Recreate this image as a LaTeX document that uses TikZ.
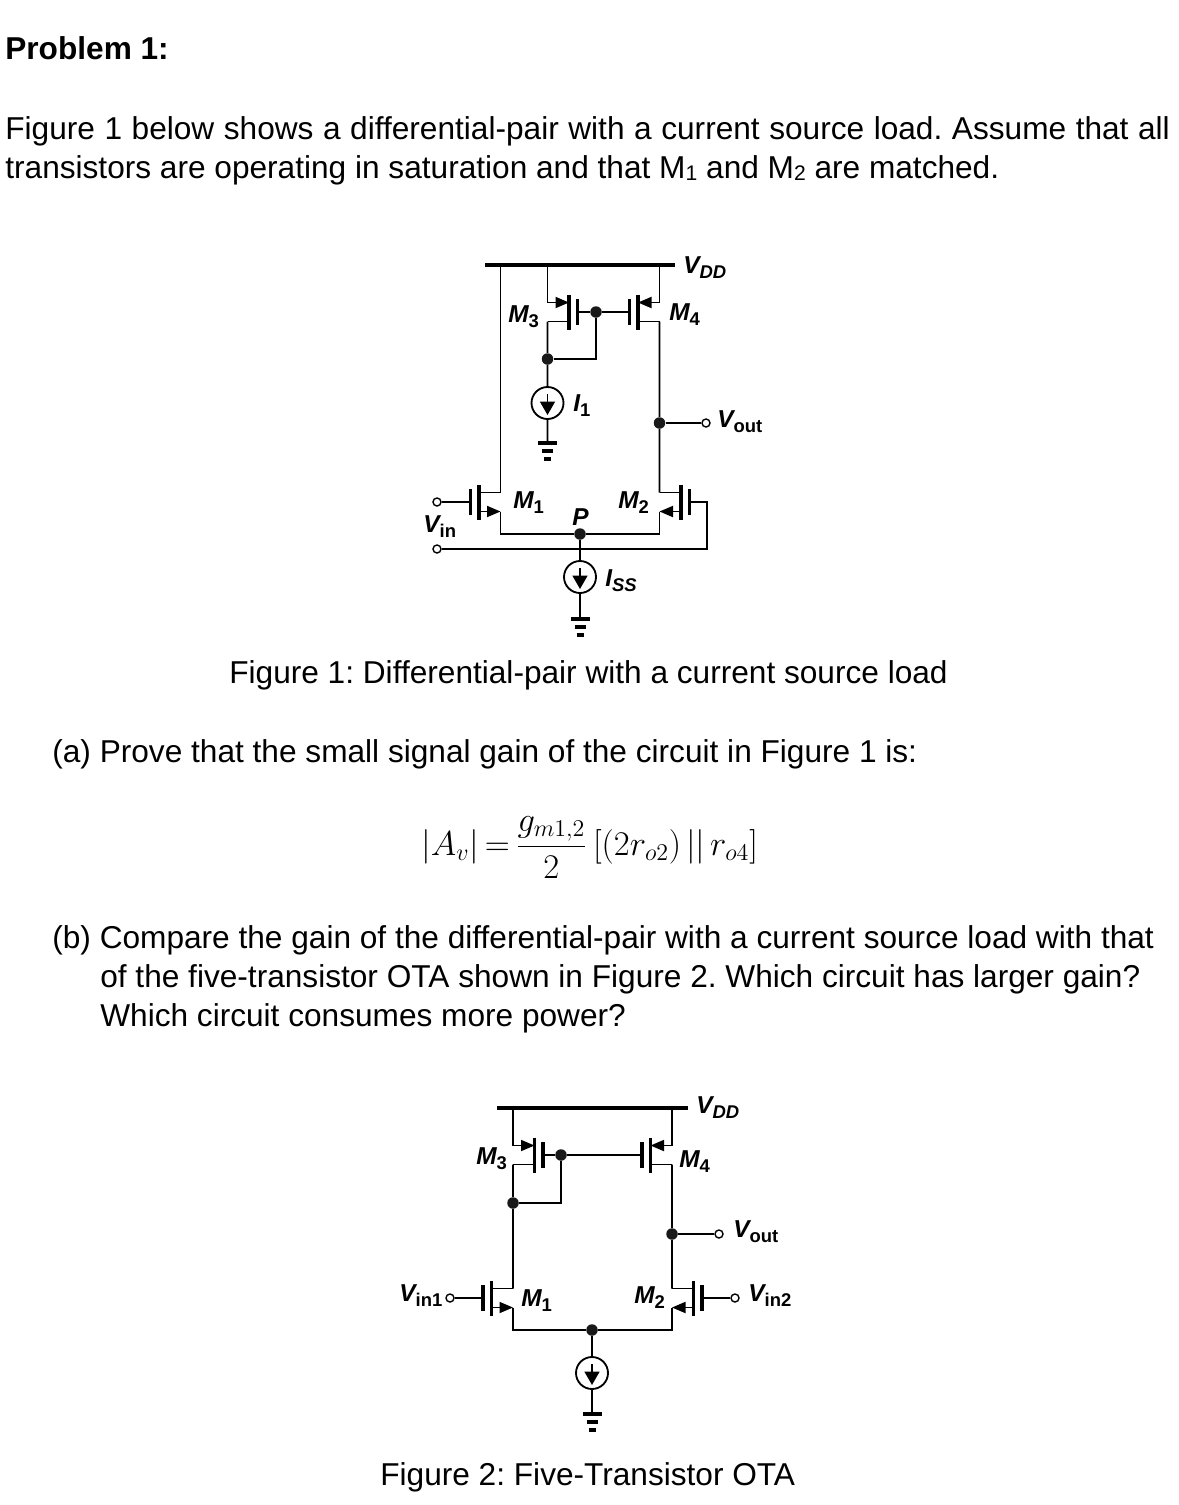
\documentclass[tikz,border=0pt]{standalone}
\usepackage{fontspec}
\setmainfont{Liberation Sans}
\usetikzlibrary{arrows.meta,calc}
\frenchspacing
\newcommand{\lsub}[1]{\raisebox{-3.4pt}{\fontsize{10.5}{10.5}\selectfont #1}}
\newcommand{\tsub}[1]{\raisebox{-1.5pt}{\fontsize{12}{12}\selectfont #1}}
\tikzset{
  wire/.style={line width=1.05pt},
  rail/.style={line width=2.2pt},
  bar/.style={line width=1.9pt},
  dotn/.style={circle,fill=black!90,inner sep=0pt,minimum size=0.23cm},
  opn/.style={circle,draw,fill=white,line width=0.8pt,inner sep=0pt,minimum size=0.16cm},
  srcn/.style={circle,draw,line width=1.05pt,inner sep=0pt,minimum size=0.64cm},
  bodytext/.style={anchor=base west,inner sep=0pt,font=\fontsize{18}{22}\selectfont},
  lbl/.style={anchor=base west,inner sep=0pt,font=\fontsize{13.9}{15}\bfseries\itshape\selectfont},
  tip/.style={-{Triangle[length=0.27cm,width=0.22cm]}},
}
%トランジスタ
\newcommand{\mosbody}[4]{
  \begin{scope}[shift={(#2,#3)},xscale=#4]
    \draw[bar](0,-17.5)--(0,17.5);
    \draw[bar](-8.5,-13)--(-8.5,13);
    \coordinate(#1-g)at(-8.5,0);
    \coordinate(#1-t)at(21.5,-9.5);
    \coordinate(#1-b)at(21.5,9.5);
  \end{scope}
}
\newcommand{\nmosfet}[4]{
  \mosbody{#1}{#2}{#3}{#4}
  \draw[wire](#1-t)--++({-21.5*#4},0);
  \draw[wire,tip]($(#1-b)+({-21.5*#4},0)$)--(#1-b);
}
\newcommand{\pmosfet}[4]{
  \mosbody{#1}{#2}{#3}{#4}
  \draw[wire](#1-b)--++({-21.5*#4},0);
  \draw[wire,tip](#1-t)--++({-21.5*#4},0);
}
%接地
\newcommand{\gndsym}[3]{
  \coordinate(#1)at(#2,#3);
  \draw[line width=1.9pt]($(#1)+(-9.5,0)$)--($(#1)+(9.5,0)$);
  \draw[line width=1.9pt]($(#1)+(-5.5,8)$)--($(#1)+(5.5,8)$);
  \draw[line width=1.9pt]($(#1)+(-3.5,16)$)--($(#1)+(3.5,16)$);
}
%電流源
\newcommand{\srcarrow}[1]{
  \draw[wire,-{Triangle[length=0.27cm,width=0.3cm]}]($(#1)+(0,-9)$)--($(#1)+(0,12)$);
}
\begin{document}
\begin{tikzpicture}[x=0.02cm,y=-0.02cm]
  \useasboundingbox(0,0)rectangle(1179,1505);
  %本文
  \node[bodytext,font=\fontsize{18}{22}\bfseries\selectfont](title)at(5,59){Problem 1:};
  \node[bodytext](introa)at(5,139){\spaceskip=5.45pt Figure 1 below shows a differential-pair with a current source load. Assume that all};
  \node[bodytext](introb)at(5,178){transistors are operating in saturation and that M\tsub{1} and M\tsub{2} are matched.};
  \node[bodytext](capa)at(229,683){Figure 1: Differential-pair with a current source load};
  \node[bodytext](parta)at(52,762){(a) Prove that the small signal gain of the circuit in Figure 1 is:};
  \node[anchor=base west,inner sep=0pt,font=\fontsize{20}{24}\selectfont](gain)at(421,855){\scalebox{0.95}{$\displaystyle |A_v|\mskip-2mu=\mskip-2mu\frac{g_{m1,2}}{2}\,[(2r_{o2})\mskip2.5mu||\mskip2.5mu r_{o4}]$}};
  \node[bodytext](partb)at(52,948){(b) Compare the gain of the differential-pair with a current source load with that};
  \node[bodytext](partc)at(100,987){of the five-transistor OTA shown in Figure 2. Which circuit has larger gain?};
  \node[bodytext](partd)at(100,1026){Which circuit consumes more power?};
  \node[bodytext](capb)at(380,1485){Figure 2: Five-Transistor OTA};

  %Figure 1
  \coordinate(railal)at(485,265);
  \coordinate(railar)at(675,265);
  \draw[rail](railal)--(railar);
  \pmosfet{am3}{569}{312}{-1}
  \pmosfet{am4}{638}{312}{1}
  \nmosfet{am1}{479}{502}{1}
  \nmosfet{am2}{681}{502}{-1}
  \node[dotn](agate)at(596,312){};
  \node[dotn](adiode)at(547.5,359){};
  \node[dotn](aout)at(659.5,423){};
  \node[dotn](ap)at(580,534){};
  \node[opn](aoutc)at(706,423){};
  \node[opn](avina)at(437,502){};
  \node[opn](avinb)at(437,549){};
  \coordinate(acorner)at(707,549);
  \node[srcn](ai)at(547.5,403){};
  \node[srcn](aiss)at(580,577){};
  \srcarrow{ai}
  \srcarrow{aiss}
  \gndsym{agi}{547.5}{443}
  \gndsym{agss}{580}{619}
  \draw[wire](am3-t)--(am3-t|-railal);
  \draw[wire](am4-t)--(am4-t|-railal);
  \draw[wire](am1-t)--(am1-t|-railal);
  \draw[wire](am3-g)--(agate)--(am4-g);
  \draw[wire](agate)|-(adiode);
  \draw[wire](am3-b)--(adiode)--(ai)--(agi);
  \draw[wire](am4-b)--(aout)--(am2-t);
  \draw[wire](aout)--(aoutc);
  \draw[wire](avina)--(am1-g);
  \draw[wire](am1-b)|-(ap);
  \draw[wire](am2-b)|-(ap);
  \draw[wire](ap)--(aiss)--(agss);
  \draw[wire](am2-g)-|(acorner)--(avinb);
  \node[lbl](avdd)at(683,273){V\lsub{DD}};
  \node[lbl](alm3)at(508,322){M\lsub{\upshape 3}};
  \node[lbl](alm4)at(669,320){M\lsub{\upshape 4}};
  \node[lbl](ali)at(573,411){I\lsub{\upshape 1}};
  \node[lbl](alout)at(717,427){V\lsub{\upshape out}};
  \node[lbl](alm1)at(513,508){M\lsub{\upshape 1}};
  \node[lbl](alm2)at(618,508){M\lsub{\upshape 2}};
  \node[lbl](alp)at(572,525){P};
  \node[lbl](alvin)at(423,532){V\lsub{\upshape in}};
  \node[lbl](aliss)at(605,586){I\lsub{SS}};

  %Figure 2
  \coordinate(railbl)at(497,1108);
  \coordinate(railbr)at(688,1108);
  \draw[rail](railbl)--(railbr);
  \pmosfet{bm3}{534.5}{1155}{-1}
  \pmosfet{bm4}{650.5}{1155}{1}
  \nmosfet{bm1}{491.5}{1298}{1}
  \nmosfet{bm2}{693.5}{1298}{-1}
  \node[dotn](bgate)at(561,1155){};
  \node[dotn](bdiode)at(513,1203){};
  \node[dotn](bout)at(672,1234){};
  \node[dotn](bp)at(592,1330){};
  \node[opn](boutc)at(719,1234){};
  \node[opn](bvina)at(450,1298){};
  \node[opn](bvinb)at(735,1298){};
  \node[srcn](bi)at(592,1373){};
  \srcarrow{bi}
  \gndsym{bg}{592}{1414}
  \draw[wire](bm3-t)--(bm3-t|-railbl);
  \draw[wire](bm4-t)--(bm4-t|-railbl);
  \draw[wire](bm3-g)--(bgate)--(bm4-g);
  \draw[wire](bgate)|-(bdiode);
  \draw[wire](bm3-b)--(bdiode)--(bm1-t);
  \draw[wire](bm4-b)--(bout)--(bm2-t);
  \draw[wire](bout)--(boutc);
  \draw[wire](bvina)--(bm1-g);
  \draw[wire](bvinb)--(bm2-g);
  \draw[wire](bm1-b)|-(bp);
  \draw[wire](bm2-b)|-(bp);
  \draw[wire](bp)--(bi)--(bg);
  \node[lbl](bvdd)at(696,1113){V\lsub{DD}};
  \node[lbl](blm3)at(476,1164){M\lsub{\upshape 3}};
  \node[lbl](blm4)at(679,1167){M\lsub{\upshape 4}};
  \node[lbl](blout)at(733,1237){V\lsub{\upshape out}};
  \node[lbl](blvina)at(399,1301){V\lsub{\upshape in1}};
  \node[lbl](blm1)at(521,1306){M\lsub{\upshape 1}};
  \node[lbl](blm2)at(634,1303){M\lsub{\upshape 2}};
  \node[lbl](blvinb)at(748,1301){V\lsub{\upshape in2}};
\end{tikzpicture}
\end{document}
